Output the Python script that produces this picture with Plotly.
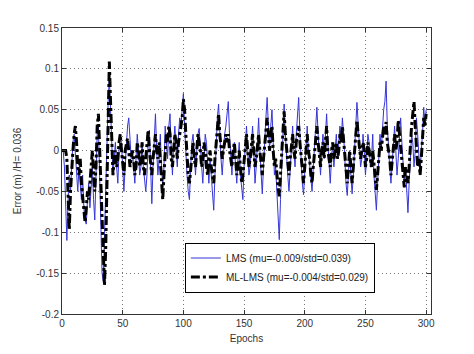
import plotly.graph_objects as go

epochs = list(range(0, 301))

lms = [
    0, 0, -0.02, -0.08, -0.11, -0.06, -0.03, -0.05, -0.02, 0.01,
    0.02, 0.0, -0.03, -0.05, -0.02, -0.04, -0.06, -0.03, -0.07, -0.085,
    -0.09, -0.06, -0.04, -0.07, -0.05, -0.02, -0.06, -0.085, -0.03, 0.02,
    0.03, -0.02, -0.08, -0.15, -0.16, -0.1, -0.04, 0.02, 0.06, 0.09,
    0.04, 0.0, -0.03, -0.01, 0.01, -0.02, -0.04, 0.0, 0.02, 0.01,
    -0.03, -0.05, -0.02, 0.01, 0.03, 0.04, 0.01, -0.01, 0.0, -0.02,
    -0.04, -0.01, 0.02, 0.0, -0.03, -0.02, 0.01, -0.02, -0.04, -0.05,
    -0.03, 0.01, 0.025, -0.03, -0.065, -0.02, 0.01, 0.045, 0.0, -0.03,
    -0.01, 0.02, -0.02, -0.045, -0.02, 0.03, 0.01, -0.01, 0.03, 0.045,
    0.0, -0.03, 0.01, 0.03, 0.0, -0.02, 0.02, 0.04, 0.03, 0.05,
    0.07, 0.03, -0.01, -0.03, -0.05, -0.06, -0.02, 0.01, 0.02, -0.01,
    -0.03, 0.0, 0.02, 0.027, 0.0, -0.02, -0.04, -0.01, 0.02, 0.01,
    -0.02, -0.04, -0.01, -0.03, -0.05, -0.073, -0.03, 0.01, 0.04, 0.057,
    0.02, -0.01, -0.03, 0.0, 0.02, 0.03, 0.045, 0.06, 0.02, -0.01,
    -0.03, 0.0, 0.01, -0.02, -0.04, -0.01, 0.01, -0.03, -0.05, -0.06,
    -0.02, 0.01, 0.03, 0.0, -0.03, -0.02, 0.01, 0.03, 0.0, -0.04,
    -0.02, 0.02, 0.04, 0.0, -0.03, -0.053, -0.02, 0.02, 0.04, 0.065,
    0.02, 0.0, 0.03, 0.05, 0.01, -0.03, -0.02, -0.05, -0.08, -0.109,
    -0.06, -0.02, 0.02, 0.057, 0.02, -0.01, -0.03, -0.05, -0.02, 0.01,
    0.03, 0.0, -0.02, 0.02, 0.045, 0.065, 0.02, -0.02, -0.04, -0.054,
    -0.02, 0.01, 0.03, 0.0, -0.02, -0.04, -0.05, -0.02, 0.01, 0.03,
    0.053, 0.02, -0.01, -0.03, 0.0, 0.02, -0.01, 0.02, 0.045, 0.01,
    -0.02, -0.04, -0.01, 0.01, -0.02, 0.0, 0.02, -0.01, 0.01, 0.03,
    0.01, 0.04, 0.02, -0.02, -0.04, -0.055, -0.02, 0.0, -0.03, -0.053,
    -0.03, 0.01, 0.03, 0.059, 0.03, 0.0, -0.02, -0.01, 0.02, 0.0,
    -0.03, -0.01, 0.02, 0.01, -0.02, -0.01, 0.02, -0.03, -0.05, -0.073,
    -0.04, 0.0, 0.02, 0.0, 0.03, 0.05, 0.06, 0.085, 0.03, 0.0,
    -0.02, -0.04, -0.02, 0.01, 0.03, 0.0, -0.03, -0.01, 0.02, 0.04,
    0.01, -0.02, -0.04, -0.02, -0.05, -0.076, -0.04, 0.0, 0.02, 0.01,
    -0.02, 0.0, 0.04, 0.02, -0.01, -0.03, 0.0, 0.02, 0.053, 0.03,
    0.05,
]

ml_lms = [
    0, 0, 0, 0, -0.01, -0.06, -0.097, -0.05, -0.02, 0.0,
    0.02, 0.03, 0.01, -0.02, -0.03, -0.01, -0.04, -0.06, -0.08, -0.088,
    -0.07, -0.05, -0.06, -0.04, -0.02, 0.0, -0.03, -0.05, -0.02, 0.03,
    0.045, 0.0, -0.05, -0.1, -0.14, -0.165, -0.12, -0.03, 0.05, 0.109,
    0.06, 0.01, -0.03, -0.01, 0.0, -0.02, -0.01, 0.01, 0.02, 0.0,
    -0.02, -0.03, 0.0, 0.01, 0.015, 0.0, -0.02, -0.01, 0.0, -0.01,
    -0.03, -0.02, 0.01, 0.0, -0.02, -0.01, 0.01, -0.02, -0.03, -0.01,
    0.01, 0.025, 0.0, -0.02, -0.03, -0.01, 0.01, 0.02, 0.0, -0.01,
    0.01, -0.01, -0.04, -0.06, -0.03, 0.0, 0.02, 0.01, 0.03, 0.02,
    -0.01, -0.02, 0.0, 0.02, 0.01, -0.01, 0.01, 0.02, 0.03, 0.04,
    0.063, 0.05, 0.02, -0.01, -0.03, -0.04, -0.02, 0.0, 0.01, -0.01,
    -0.02, 0.0, 0.02, 0.01, 0.0, -0.02, -0.01, 0.01, 0.0, -0.02,
    -0.03, -0.01, 0.0, -0.02, -0.03, -0.04, -0.01, 0.01, 0.03, 0.045,
    0.02, 0.0, -0.01, 0.0, 0.01, 0.02, 0.01, 0.02, 0.0, -0.01,
    -0.02, 0.0, 0.01, -0.01, -0.03, -0.02, 0.0, -0.02, -0.04, -0.03,
    -0.01, 0.01, 0.02, 0.0, -0.02, -0.01, 0.01, 0.02, 0.0, -0.02,
    -0.01, 0.01, 0.02, 0.0, -0.02, -0.03, -0.01, 0.01, 0.03, 0.04,
    0.02, 0.0, 0.02, 0.03, 0.0, -0.02, -0.01, -0.03, -0.045, -0.056,
    -0.03, 0.0, 0.02, 0.048, 0.02, 0.0, -0.02, -0.03, -0.01, 0.01,
    0.02, 0.0, -0.01, 0.01, 0.02, 0.03, 0.01, -0.01, -0.03, -0.04,
    -0.02, 0.0, 0.02, 0.0, -0.01, -0.03, -0.04, -0.02, 0.0, 0.02,
    0.03, 0.01, -0.01, -0.02, 0.0, 0.01, -0.01, 0.01, 0.03, 0.0,
    -0.01, -0.02, 0.0, 0.01, -0.01, 0.0, 0.01, -0.01, 0.0, 0.02,
    0.01, 0.03, 0.01, -0.01, -0.03, -0.04, -0.02, 0.0, -0.02, -0.04,
    -0.02, 0.0, 0.02, 0.037, 0.02, 0.0, -0.01, 0.0, 0.01, 0.0,
    -0.02, -0.01, 0.01, 0.0, -0.01, -0.02, 0.0, -0.02, -0.04, -0.048,
    -0.03, -0.01, 0.01, 0.0, 0.02, 0.03, 0.02, 0.035, 0.01, 0.0,
    -0.01, -0.03, -0.01, 0.01, 0.02, 0.0, 0.01, 0.037, 0.02, 0.0,
    -0.01, -0.03, -0.045, -0.02, -0.03, -0.04, -0.02, 0.01, 0.03, 0.045,
    0.06, 0.03, 0.0, -0.02, -0.01, -0.03, -0.01, 0.02, 0.04, 0.03,
    0.045,
]

series_names = ["LMS (mu=-0.009/std=0.039)", "ML-LMS (mu=-0.004/std=0.029)"]
x_ticks = [0, 50, 100, 150, 200, 250, 300]
y_ticks = [0.15, 0.1, 0.05, 0, -0.05, -0.1, -0.15, -0.2]
y_tick_labels = ["0.15", "0.1", "0.05", "0", "-0.05", "-0.1", "-0.15", "-0.2"]

fig = go.Figure()
fig.add_trace(go.Scatter(x=epochs, y=lms, mode="lines", name=series_names[0],
                         line=dict(color="#3535d8", width=1)))
fig.add_trace(go.Scatter(x=epochs, y=ml_lms, mode="lines", name=series_names[1],
                         line=dict(color="black", width=3, dash="dashdot")))

axis_common = dict(
    showline=True, mirror="ticks", linecolor="#333", linewidth=1,
    ticks="inside", ticklen=4, tickcolor="#333",
    showgrid=True, gridcolor="#777", griddash="1px,3px", gridwidth=1,
    zeroline=False, tickfont=dict(family="Liberation Sans", size=10, color="#333"),
)

fig.update_xaxes(range=[0, 304], tickvals=x_ticks,
                 title=dict(text="Epochs", font=dict(family="Liberation Sans", size=10, color="#333"), standoff=6),
                 **axis_common)
fig.update_yaxes(range=[-0.2, 0.15], tickvals=y_ticks, ticktext=y_tick_labels,
                 title=dict(text="Error (m) /H= 0.036", font=dict(family="Liberation Sans", size=10, color="#333"), standoff=12),
                 **axis_common)

fig.update_layout(
    width=474, height=354,
    margin=dict(l=62, r=43, t=28, b=37),
    paper_bgcolor="white", plot_bgcolor="white",
    showlegend=True,
    legend=dict(x=0.333, y=0.25, xanchor="left", yanchor="top",
                bgcolor="white", bordercolor="black", borderwidth=1,
                font=dict(family="Liberation Sans", size=10, color="#222"),
                tracegroupgap=0, itemwidth=30),
)

fig.write_html("out.html")
